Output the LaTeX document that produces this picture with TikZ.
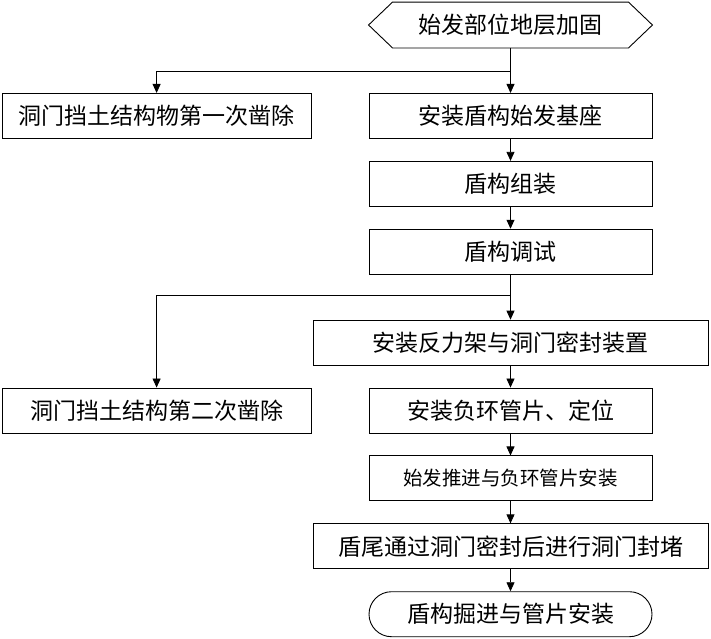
\documentclass[tikz,border=0pt]{standalone}
\usepackage{fontspec}
\setmainfont{Noto Sans CJK SC}
\usepackage{tikz}
\usetikzlibrary{arrows.meta,positioning,calc}

\begin{document}
\begin{tikzpicture}[x=1pt,y=-1pt,node distance=22pt and 57pt,>={Triangle[length=9pt,width=8pt]},
 box/.style={draw,line width=0.9pt,align=center,inner sep=2pt,minimum width=283pt,minimum height=45pt,
  font=\fontsize{23}{27}\selectfont},
 widebox/.style={box,minimum width=395pt},
 sidebox/.style={box,minimum width=309pt},
 smallbox/.style={box,font=\fontsize{19.5}{23}\selectfont},
 endbox/.style={box,rounded corners=22.5pt},
 link/.style={line width=0.8pt}]
\useasboundingbox (0,0) rectangle (711,638);
\node[box,draw=none] (fix) at (510.5,25) {始发部位地层加固};
\draw[line width=0.9pt] (fix.west) -- ([xshift=24pt]fix.north west) -- ([xshift=-24pt]fix.north east)
 -- (fix.east) -- ([xshift=-24pt]fix.south east) -- ([xshift=24pt]fix.south west) -- cycle;
\node[box,below=45pt of fix] (seat) {安装盾构始发基座};
\node[sidebox,left=of seat] (chisela) {洞门挡土结构物第一次凿除};
\node[box,below=of seat] (build) {盾构组装};
\node[box,below=of build] (test) {盾构调试};
\node[widebox,below=45pt of test] (frame) {安装反力架与洞门密封装置};
\node[box,below=of frame] (ring) {安装负环管片、定位};
\node[sidebox] (chiselb) at (chisela |- ring) {洞门挡土结构第二次凿除};
\node[smallbox,below=of ring] (push) {始发推进与负环管片安装};
\node[widebox,below=of push] (seal) {盾尾通过洞门密封后进行洞门封堵};
\node[endbox,below=of seal] (dig) {盾构掘进与管片安装};
\coordinate (fork1) at ($(fix.south)!0.53!(seat.north)$);
\coordinate (fork2) at ($(test.south)!0.47!(frame.north)$);
\draw[link,->] (fix) -- (seat);
\draw[link,->] (fork1) -| (chisela);
\draw[link,->] (seat) -- (build);
\draw[link,->] (build) -- (test);
\draw[link,->] (test) -- (frame);
\draw[link,->] (fork2) -| (chiselb);
\draw[link,->] (frame) -- (ring);
\draw[link,->] (ring) -- (push);
\draw[link,->] (push) -- (seal);
\draw[link,->] (seal) -- (dig);
\end{tikzpicture}
\end{document}
